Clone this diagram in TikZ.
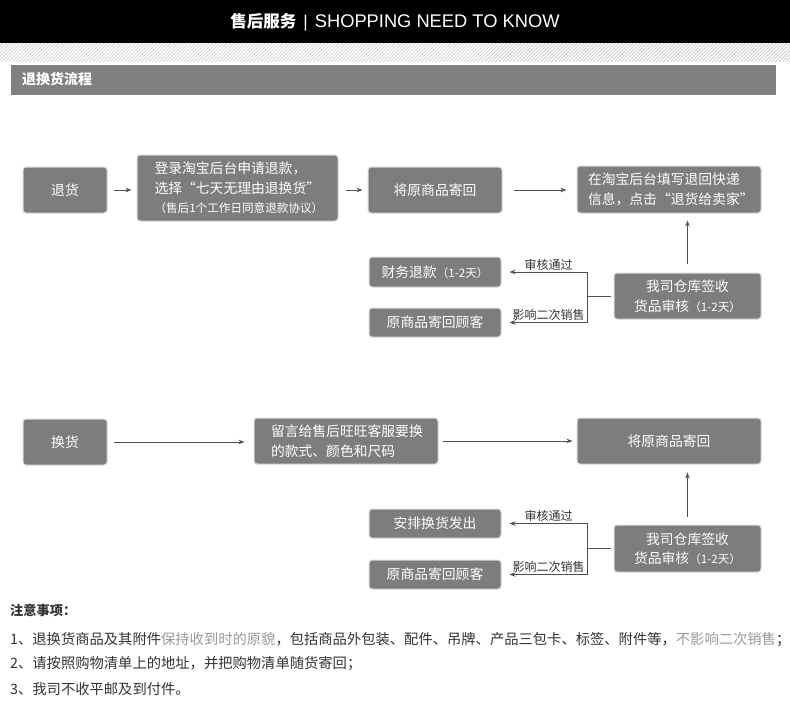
\documentclass[tikz,border=0pt]{standalone}
\usepackage{fontspec}
\setmainfont{Liberation Sans}
\newfontfamily\cjk{Noto Sans CJK SC}
\usetikzlibrary{arrows.meta}
\definecolor{boxgray}{HTML}{7D7D7D}
\definecolor{bargray}{HTML}{808080}
\definecolor{halo}{HTML}{DADADA}
\definecolor{linegray}{HTML}{505050}
\definecolor{labgray}{HTML}{333333}
\definecolor{notegray}{HTML}{333333}
\definecolor{lightg}{HTML}{9A9A9A}
\definecolor{hatch}{HTML}{C8C8C8}
\newcommand\smtxt{\fontsize{11.6}{19}\selectfont}
\begin{document}
\begin{tikzpicture}[x=1pt,y=-1pt,
  box/.style={fill=boxgray, draw=halo, line width=1pt, rounded corners=3pt, text=white,
    font=\cjk\fontsize{13.8}{19.5}\selectfont, inner sep=0pt},
  arr/.style={draw=linegray, line width=0.8pt, -{Stealth[length=6pt,width=4.5pt]}},
  ln/.style={draw=linegray, line width=0.8pt},
  lab/.style={font=\cjk\fontsize{12}{12}\selectfont, text=labgray, above, inner sep=1.5pt},
  note/.style={anchor=west, inner sep=0pt, text=notegray, font=\cjk\fontsize{14.3}{15}\selectfont}]
\useasboundingbox (0,0) rectangle (790,701);
\fill[white] (0,0) rectangle (790,701);
% header
\fill[black] (0,0) rectangle (790,43);
\begin{scope}
\clip (0,43) rectangle (790,62);
\foreach \i in {-30,-26.5,...,800} {\draw[hatch, line width=0.7pt] (\i,62) -- (\i+19,43);}
\end{scope}
\node[text=white, inner sep=0pt] (hd) at (395,22)
  {{\cjk\bfseries\fontsize{16.5}{16}\selectfont 售后服务}\hspace{7pt}{\fontsize{17}{17}\selectfont|}\hspace{7pt}{\fontsize{18.3}{18}\selectfont SHOPPING NEED TO KNOW}};
% section bar
\fill[bargray] (11,65) rectangle (776,95);
\node[anchor=west, text=white, inner sep=0pt, font=\cjk\bfseries\fontsize{14}{14}\selectfont] (st) at (22,79) {退换货流程};

% ---- return flow
\node[box, minimum width=84pt, minimum height=46pt] (th) at (65,190) {退货};
\node[box, minimum width=201pt, minimum height=66pt, text width=166pt, align=left] (dl) at (237.5,188)
  {登录淘宝后台申请退款，\\选择“七天无理由退换货”\\{\smtxt（售后1个工作日同意退款协议）}};
\node[box, minimum width=134pt, minimum height=46pt] (jh1) at (435,190) {将原商品寄回};
\node[box, minimum width=184pt, minimum height=47pt, text width=162pt, align=left] (tx) at (669,189.5)
  {在淘宝后台填写退回快递\\信息，点击“退货给卖家”};
\node[box, minimum width=147pt, minimum height=46pt, align=center] (wq1) at (687.5,296)
  {我司仓库签收\\货品审核{\smtxt（1-2天）}};
\node[box, minimum width=132pt, minimum height=30pt] (cw) at (435,272) {财务退款{\smtxt（1-2天）}};
\node[box, minimum width=132pt, minimum height=29pt] (yg1) at (435,322.5) {原商品寄回顾客};

\draw[arr] ([xshift=6pt]th.east) -- ([xshift=-5pt]th.east -| dl.west);
\draw[arr] ([xshift=7pt]dl.east |- jh1.west) -- ([xshift=-5pt]jh1.west);
\draw[arr] ([xshift=11pt]jh1.east) -- ([xshift=-10pt]jh1.east -| tx.west);
\draw[arr] ([yshift=9pt]wq1.north) -- ([yshift=-7pt]wq1.north |- tx.south);
\coordinate (b1) at ([xshift=-26pt]wq1.west);
\draw[ln] ([xshift=-3pt]wq1.west) -- (b1);
\draw[ln] (b1 |- cw.east) -- (b1 |- yg1.east);
\draw[arr] (b1 |- cw.east) -- node[lab] {审核通过} ([xshift=8pt]cw.east);
\draw[arr] (b1 |- yg1.east) -- node[lab] {影响二次销售} ([xshift=8pt]yg1.east);

% ---- exchange flow
\node[box, minimum width=84pt, minimum height=46pt] (hh) at (65,442) {换货};
\node[box, minimum width=184pt, minimum height=46pt, text width=150pt, align=left] (ly) at (346,441)
  {留言给售后旺旺客服要换\\的款式、颜色和尺码};
\node[box, minimum width=184pt, minimum height=46pt] (jh2) at (669,441) {将原商品寄回};
\node[box, minimum width=147pt, minimum height=47pt, align=center] (wq2) at (687.5,548.5)
  {我司仓库签收\\货品审核{\smtxt（1-2天）}};
\node[box, minimum width=132pt, minimum height=29pt] (ap) at (435,523.5) {安排换货发出};
\node[box, minimum width=132pt, minimum height=29pt] (yg2) at (435,574.5) {原商品寄回顾客};

\draw[arr] ([xshift=6pt]hh.east) -- ([xshift=-9pt]hh.east -| ly.west);
\draw[arr] ([xshift=4pt]ly.east) -- ([xshift=-4pt]ly.east -| jh2.west);
\draw[arr] ([yshift=8pt]wq2.north) -- ([yshift=-8pt]wq2.north |- jh2.south);
\coordinate (b2) at ([xshift=-26pt]wq2.west);
\draw[ln] ([xshift=-3pt]wq2.west) -- (b2);
\draw[ln] (b2 |- ap.east) -- (b2 |- yg2.east);
\draw[arr] (b2 |- ap.east) -- node[lab] {审核通过} ([xshift=8pt]ap.east);
\draw[arr] (b2 |- yg2.east) -- node[lab] {影响二次销售} ([xshift=8pt]yg2.east);

% ---- notes
\node[note, font=\cjk\bfseries\fontsize{13.2}{14}\selectfont] (nt) at (10,610) {注意事项：};
\node[note] (n1) at (10,640) {1、退换货商品及其附件\textcolor{lightg}{保持收到时的原貌}，包括商品外包装、配件、吊牌、产品三包卡、标签、附件等，\textcolor{lightg}{不影响二次销售}；};
\node[note] (n2) at (10,664) {2、请按照购物清单上的地址，并把购物清单随货寄回；};
\node[note] (n3) at (10,689) {3、我司不收平邮及到付件。};
\end{tikzpicture}
\end{document}
